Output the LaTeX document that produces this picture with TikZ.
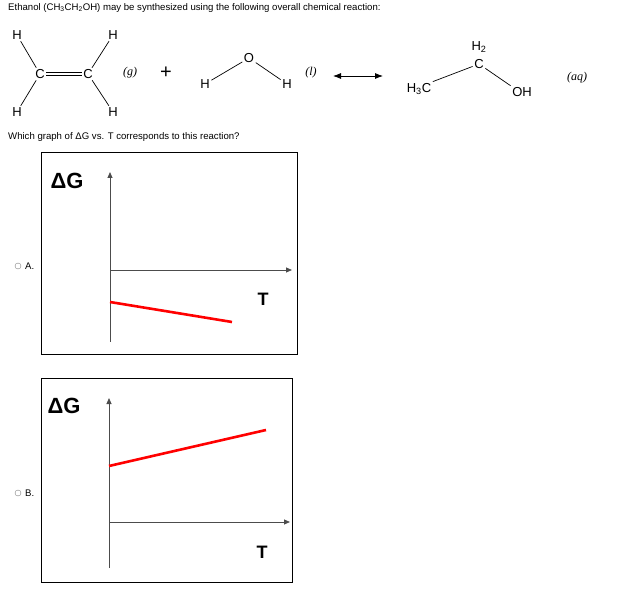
\documentclass[tikz,border=0pt]{standalone}
\usepackage{fontspec}
\setmainfont{Liberation Sans}
\newfontfamily\serifit{Liberation Serif}
\usetikzlibrary{arrows.meta}
\begin{document}
\begin{tikzpicture}[x=1pt,y=-1pt,
  txt/.style={font=\fontsize{9.6}{11}\selectfont,anchor=west,inner sep=0},
  atom/.style={font=\fontsize{13}{14}\selectfont,inner sep=1.5pt},
  bond/.style={line width=0.7pt},
  st/.style={font=\serifit\itshape\fontsize{12}{13}\selectfont,inner sep=0},
  frame/.style={draw=black,line width=0.7pt},
  axis/.style={line width=0.8pt,gray!60!black,-{Triangle[length=6pt,width=5pt]}},
  redl/.style={red,line width=2.6pt},
  dg/.style={font=\bfseries\fontsize{22}{24}\selectfont,inner sep=0},
  tl/.style={font=\bfseries\fontsize{18}{20}\selectfont,inner sep=0},
  radio/.style={draw=gray,circle,minimum size=6pt,inner sep=0}]
\useasboundingbox (0,0) rectangle (633,599);
\node[txt] (title) at (8,8) {Ethanol (CH\textsubscript{3}CH\textsubscript{2}OH) may be synthesized using the following overall chemical reaction:};
% ethene
\node[atom] (c1) at (40,74) {C};
\node[atom] (c2) at (88,74) {C};
\node[atom] (h1) at (17,35) {H};
\node[atom] (h2) at (113,35) {H};
\node[atom] (h3) at (17,112) {H};
\node[atom] (h4) at (113,112) {H};
\draw[bond] ([yshift=-1.6pt]c1.east) -- ([yshift=-1.6pt]c2.west);
\draw[bond] ([yshift=1.6pt]c1.east) -- ([yshift=1.6pt]c2.west);
\draw[bond] (h1) -- (c1); \draw[bond] (h3) -- (c1);
\draw[bond] (h2) -- (c2); \draw[bond] (h4) -- (c2);
\node[st] (g) at (130,73) {(g)};
\node[font=\fontsize{20}{20}\selectfont,inner sep=0] (plus) at (166,73) {+};
% water
\node[atom] (wh1) at (205,84) {H};
\node[atom] (wo) at (249,58) {O};
\node[atom] (wh2) at (287,84) {H};
\draw[bond] (wh1) -- (wo); \draw[bond] (wo) -- (wh2);
\node[st] (l) at (311,73) {(l)};
\coordinate (a1) at (333,76); \coordinate (a2) at (383,76);
\draw[line width=0.8pt,{Latex[length=8pt]}-{Latex[length=8pt]}] (a1) -- (a2);
% ethanol
\node[atom] (ch3) at (419,89) {H\textsubscript{3}C};
\node[atom] (ch2) at (479,64) {C};
\node[atom] (h2l) at (479,47) {H\textsubscript{2}};
\node[atom] (oh) at (522,92) {OH};
\draw[bond] (ch3.north east) -- (ch2); \draw[bond] (ch2) -- (oh.north west);
\node[st] (aq) at (577,78) {(aq)};
\node[txt] (q) at (8,137) {Which graph of ΔG vs. T corresponds to this reaction?};
% Graph A
\node[frame,minimum width=256pt,minimum height=202pt,anchor=north west,inner sep=0] (ba) at (41,152) {};
\node[dg] (dga) at (67,181) {ΔG};
\coordinate (ya0) at (110,342); \coordinate (ya1) at (110,172);
\coordinate (xa0) at (110,270); \coordinate (xa1) at (292,270);
\draw[axis] (ya0) -- (ya1);
\draw[axis] (xa0) -- (xa1);
\node[tl] (ta) at (263,299) {T};
\coordinate (ra0) at (110,302); \coordinate (ra1) at (232,322);
\draw[redl] (ra0) -- (ra1);
\node[radio] (rA) at (18,266) {};
\node[txt] (lA) at (25,266) {A.};
% Graph B
\node[frame,minimum width=251pt,minimum height=204pt,anchor=north west,inner sep=0] (bb) at (41,378) {};
\node[dg] (dgb) at (64,406) {ΔG};
\coordinate (yb0) at (109,568); \coordinate (yb1) at (109,398);
\coordinate (xb0) at (109,522); \coordinate (xb1) at (290,522);
\draw[axis] (yb0) -- (yb1);
\draw[axis] (xb0) -- (xb1);
\node[tl] (tb) at (262,552) {T};
\coordinate (rb0) at (109,466); \coordinate (rb1) at (266,430);
\draw[redl] (rb0) -- (rb1);
\node[radio] (rB) at (18,493) {};
\node[txt] (lB) at (25,493) {B.};
\end{tikzpicture}
\end{document}
